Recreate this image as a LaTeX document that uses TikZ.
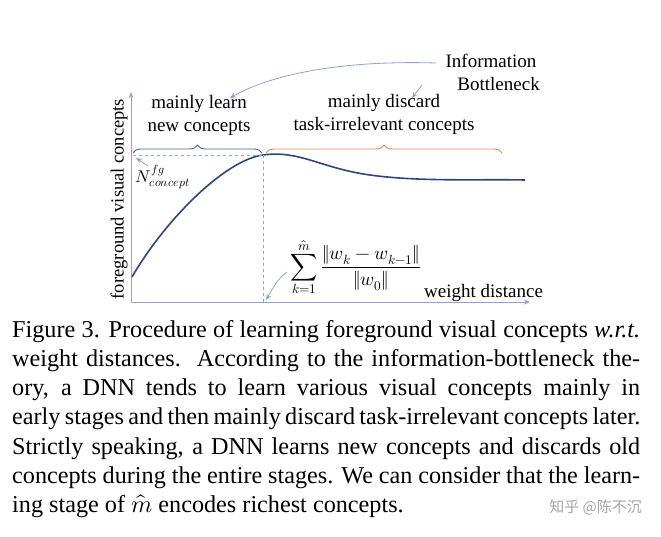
\documentclass[tikz,border=0pt]{standalone}
\usepackage{fontspec}
\usepackage{unicode-math}
\setmainfont{Liberation Serif}
\setmathfont{Latin Modern Math}
\newfontfamily\cjk{Noto Sans CJK SC}
\usetikzlibrary{decorations.pathreplacing,arrows.meta}
\definecolor{axblue}{RGB}{140,165,205}
\definecolor{curve}{RGB}{45,70,125}
\definecolor{brorange}{RGB}{220,140,80}
\definecolor{brblue}{RGB}{70,100,160}
\tikzset{
  lbl/.style={font=\fontsize{19}{23}\selectfont, align=center, inner sep=0pt},
  thin arrow/.style={axblue, line width=0.8pt, -{Stealth[length=6pt,width=5pt]}},
  dash line/.style={axblue, dashed, line width=0.8pt},
}
\begin{document}
\begin{tikzpicture}[x=1pt,y=-1pt]
\useasboundingbox (0,0) rectangle (661,536);
% axes
\coordinate (O) at (131,302);
\coordinate (Ytop) at (131,92);
\coordinate (Xend) at (530,302);
\draw[thin arrow] (O) -- (Ytop);
\draw[thin arrow] (O) -- (Xend);
% curve
\coordinate (start) at (132,277);
\coordinate (peak) at (263,155);
\draw[curve, line width=1.6pt] (start) .. controls (165,220) and (225,160) .. (peak)
  .. controls (300,150) and (320,168) .. (370,175)
  .. controls (420,182) and (480,179) .. (525,180);
% dashed
\coordinate (ypk) at (133,155);
\coordinate (xpk) at (263,302);
\draw[dash line] (ypk) -- (peak);
\draw[dash line] (peak) -- (xpk);
% braces
\coordinate (b1a) at (133,153); \coordinate (b1b) at (262,153);
\coordinate (b2a) at (266,153); \coordinate (b2b) at (502,153);
\draw[brblue, line width=0.9pt, decoration={brace, amplitude=8pt}, decorate] (b1a) -- (b1b);
\draw[brorange, line width=0.9pt, decoration={brace, amplitude=8pt}, decorate] (b2a) -- (b2b);
% labels
\node[lbl] (learn) at (199,115) {mainly learn\\new concepts};
\node[lbl] (disc) at (384,114) {mainly discard\\task-irrelevant concepts};
\node[lbl] (ib) at (491,72) {Information\\\hspace*{0.8em}Bottleneck};
\node[lbl, font=\fontsize{18.5}{22}\selectfont, rotate=90] (ylab) at (119,199) {foreground visual concepts};
\node[lbl, anchor=west] (wd) at (424,293) {weight distance};
\node[inner sep=0pt] (N) at (163,177) {\fontsize{17}{20}\selectfont$N^{fg}_{concept}$};
\node[inner sep=0pt] (sum) at (356,267) {\fontsize{19}{22}\selectfont$\displaystyle\sum_{k=1}^{\hat m}\frac{\|w_k-w_{k-1}\|}{\|w_0\|}$};
% pointer arrows
\draw[thin arrow] (436,63) .. controls (340,60) and (270,75) .. (230,98);
\draw[thin arrow] (422,85) -- (412,98);
\draw[thin arrow] (148,166) -- (136,158);
\draw[thin arrow] (287,272) .. controls (277,279) and (272,290) .. (266,300);
% caption
\node[anchor=north west, inner sep=0pt, text width=628pt, align=justify,
  font=\fontsize{24.2}{29.2}\selectfont] (cap) at (12,320)
{Figure 3. Procedure of learning foreground visual concepts \emph{w.r.t.}\linebreak
weight distances.\ \ According to the information-bottleneck the-\linebreak
ory, a DNN tends to learn various visual concepts mainly in\linebreak
early stages and then mainly discard task-irrelevant concepts later.\linebreak
Strictly speaking, a DNN learns new concepts and discards old\linebreak
concepts during the entire stages. We can consider that the learn-\linebreak
ing stage of $\hat{m}$ encodes richest concepts.};
\node[anchor=east, text=gray!70, font=\cjk\fontsize{15}{18}\selectfont, inner sep=0pt] (wm) at (642,507) {知乎 @陈不沉};
\end{tikzpicture}
\end{document}
